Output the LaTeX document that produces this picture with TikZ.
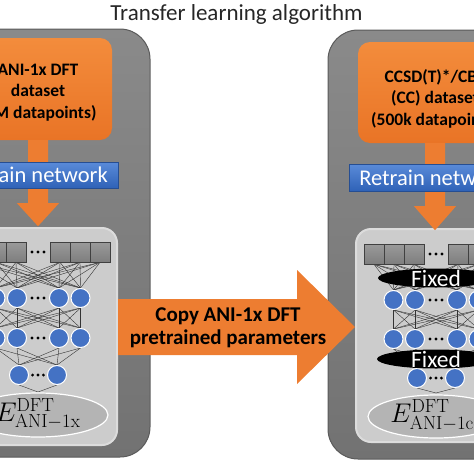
\documentclass[tikz,border=0pt]{standalone}
\usepackage{fix-cm}
\usepackage[no-math]{fontspec}
\setmainfont{Carlito}
\usetikzlibrary{shapes.geometric}
\definecolor{panelTop}{HTML}{8A8A8A}
\definecolor{panelBot}{HTML}{727272}
\definecolor{panelLine}{HTML}{5A5A5A}
\definecolor{innerFill}{HTML}{CCCCCC}
\definecolor{innerLine}{HTML}{DCDCDC}
\definecolor{orTop}{HTML}{F38C3C}
\definecolor{orBot}{HTML}{E97426}
\definecolor{orFlat}{HTML}{ED7D31}
\definecolor{blTop}{HTML}{5A8BD9}
\definecolor{blBot}{HTML}{2F62B7}
\definecolor{nblue}{HTML}{4472C4}
\definecolor{sqTop}{HTML}{9A9A9A}
\definecolor{sqBot}{HTML}{7E7E7E}
\definecolor{ellFill}{HTML}{B4B4B4}
\pgfdeclarelayer{back}
\pgfdeclarelayer{mid}
\pgfsetlayers{back,mid,main}

\newcommand\drawnet[7]{%
  \foreach \i/\x in {1/-62,2/-42,3/-22,4/22,5/42,6/62}
    \node[sq] (#1s\i) at ({#2+\x},#3) {};
  \foreach \i/\x in {1/-42.5,2/-21,3/21,4/42.5}
    {\node[nn] (#1a\i) at ({#2+\x},#4) {};
     \node[nn] (#1b\i) at ({#2+\x},#5) {};}
  \foreach \i/\x in {1/-19,2/19}
    \node[nn] (#1c\i) at ({#2+\x},#6) {};
  \coordinate (#1out) at (#2,#7);
  \foreach \d in {-6,0,6}
    {\fill ({#2+\d},#3) circle (1.7);
     \fill ({#2+\d},#4) circle (1.7);
     \fill ({#2+\d},#5) circle (1.7);
     \fill ({#2+\d*0.9},#6) circle (1.6);}
  \begin{pgfonlayer}{mid}
    \foreach \i in {1,...,6} \foreach \j in {1,...,4}
      \draw[link] (#1s\i.south) -- (#1a\j.north);
    \foreach \i in {1,...,4} \foreach \j in {1,...,4}
      \draw[link] (#1a\i.south) -- (#1b\j.north);
    \foreach \i in {1,...,4} \foreach \j in {1,2}
      \draw[link] (#1b\i.south) -- (#1c\j.north);
    \foreach \j in {1,2}
      \draw[link] (#1c\j.south) -- (#1out);
  \end{pgfonlayer}
}

\begin{document}
\begin{tikzpicture}[x=1pt,y=-1pt,
  panel/.style={draw=panelLine, line width=1pt, top color=panelTop, bottom color=panelBot, rounded corners=30pt},
  innerpanel/.style={draw=innerLine, line width=2pt, fill=innerFill, rounded corners=15pt},
  obox/.style={rounded corners=12pt, top color=orTop, bottom color=orBot, inner sep=0},
  otxt/.style={align=center, font=\bfseries\fontsize{17.5}{21.5}\selectfont, text=black, inner sep=0},
  banner/.style={top color=blTop, bottom color=blBot, draw=blBot!80!black, line width=0.5pt,
    text=white, font=\fontsize{22.5}{26}\selectfont, inner xsep=10pt, inner ysep=0pt},
  sq/.style={draw=black!75, line width=0.6pt, top color=sqTop, bottom color=sqBot, minimum size=20, inner sep=0},
  nn/.style={circle, fill=nblue, draw=white, line width=1pt, minimum size=19, inner sep=0},
  link/.style={draw=black!80, line width=0.4pt},
  fixedell/.style={ellipse, fill=black, inner sep=0},
  fixedtxt/.style={text=white, font=\fontsize{23.5}{24}\selectfont, inner sep=0},
  eell/.style={ellipse, fill=ellFill, draw=white, line width=1.2pt, inner sep=0},
  etxt/.style={font=\fontsize{27}{30}\selectfont, inner sep=0},
  oarrow/.style={fill=orFlat},
]
\useasboundingbox (0,0) rectangle (474,474);
\clip (0,0) rectangle (474,474);

\node[font=\fontsize{23}{26}\selectfont, text=black!85, anchor=base] (title) at (236.5,20) {Transfer learning algorithm};

\begin{pgfonlayer}{back}
  % left column
  \path[panel] (-74,29) rectangle (150,457);
  \path[innerpanel] (-42,228) rectangle (117,445);
  \node[obox, minimum width=148, minimum height=102] (Lbox) at (38,89) {};
  \fill[oarrow] ([xshift=-10pt]Lbox.south) -- ++(20,0) -- ++(0,63) -- ++(11,0)
    -- ++(-21,23) -- ++(-21,-23) -- ++(11,0) -- cycle;
  \node[banner, anchor=east, minimum height=26] (Lban) at (118,175) {Retrain network};
  % right column
  \path[panel] (328,30) rectangle (545,459);
  \path[innerpanel] (356,229) rectangle (520,442);
  \node[obox, minimum width=154, minimum height=101] (Rbox) at (435,92.5) {};
  \fill[oarrow] ([xshift=-10pt]Rbox.south) -- ++(20,0) -- ++(0,63) -- ++(11,0)
    -- ++(-21,24) -- ++(-21,-24) -- ++(11,0) -- cycle;
  \node[banner, anchor=west, minimum height=27] (Rban) at (349,177.5) {Retrain network};
  % big transfer arrow
  \fill[oarrow] (118,299) -- (297,299) -- (297,270) -- (355,327) -- (297,384)
    -- (297,355) -- (118,355) -- cycle;
\end{pgfonlayer}

\node[otxt] (Ltxt) at (38,92.5) {ANI-1x DFT\\dataset\\(5M datapoints)};
\node[otxt] (Rtxt) at (435,98.5) {CCSD(T)*/CBS\\(CC) dataset\\(500k datapoints)};

\node[font=\bfseries\fontsize{21}{23}\selectfont, align=center, text=black] (copytxt) at (228,328)
  {Copy ANI-1x DFT\\pretrained parameters};

\drawnet{L}{38}{252}{298}{338}{375}{392}
\drawnet{R}{436}{254}{300}{339}{378}{393}

\node[fixedell, minimum width=116, minimum height=19] (fix1) at (436,278) {};
\node[fixedtxt] (fix1t) at (fix1.center) {Fixed};
\node[fixedell, minimum width=118, minimum height=19] (fix2) at (436,359) {};
\node[fixedtxt] (fix2t) at (fix2.center) {Fixed};

\node[eell, minimum width=140, minimum height=44] (Lell) at (38,415) {};
\node[etxt] (Lelt) at ([yshift=1pt]Lell.center) {$E^{\mathrm{DFT}}_{\mathrm{ANI-1x}}$};
\node[eell, minimum width=136, minimum height=43] (Rell) at (436,416.5) {};
\node[etxt] (Relt) at ([yshift=1pt]Rell.center) {$E^{\mathrm{DFT}}_{\mathrm{ANI-1cc}}$};
\end{tikzpicture}
\end{document}
